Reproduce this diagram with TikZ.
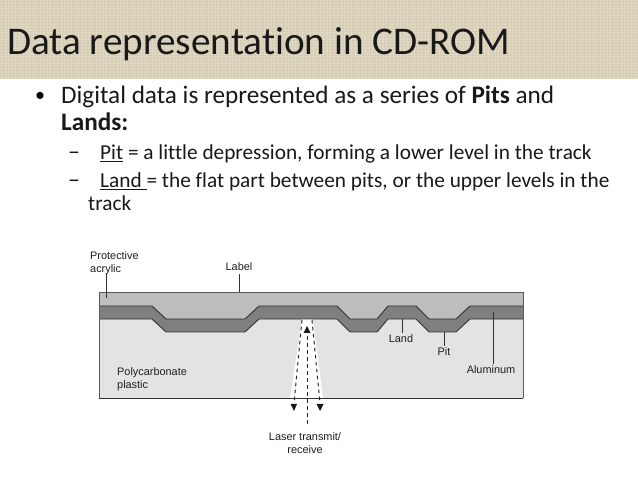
\documentclass[tikz,border=0pt]{standalone}
\usepackage{fontspec}
\setmainfont[RawFeature={-liga}]{Carlito}
\newfontfamily\labelfont{Liberation Sans}
\usetikzlibrary{arrows.meta}
\definecolor{tan}{HTML}{DCD3BD}
\definecolor{tandark}{HTML}{CDC3AB}
\definecolor{tanlight}{HTML}{E6DECB}
\definecolor{acrylic}{HTML}{BDBDBD}
\definecolor{alu}{HTML}{7F7F7F}
\definecolor{poly}{HTML}{E3E3E3}
\definecolor{edge}{HTML}{333333}
\tikzset{
  title/.style={anchor=base west,inner sep=0pt,font=\fontsize{39.2}{41}\selectfont,text=black!90},
  bodytext/.style={anchor=base west,inner sep=0pt,font=\fontsize{25.2}{27}\selectfont,text=black!90},
  subtext/.style={anchor=base west,inner sep=0pt,font=\fontsize{21.3}{24}\selectfont,text=black!90},
  lab/.style={inner sep=0pt,font=\labelfont\fontsize{10.9}{13.2}\selectfont,text=black!88,align=center},
  leader/.style={draw=edge,line width=0.8pt},
  laser/.style={draw=black!85,line width=1pt,dash pattern=on 3.5pt off 3.5pt},
  tip/.style={fill=black!90,draw=none},
  weave/.style={line width=0.5pt}
}
\begin{document}
\begin{tikzpicture}[x=1pt,y=-1pt]
\useasboundingbox (0,0) rectangle (638,478);
\fill[white] (0,0) rectangle (638,478);
% title band
\fill[tan] (0,0) rectangle (638,79);
\foreach \k in {1.5,4.5,...,79}{\draw[weave,tandark,opacity=.55] (0,\k) -- (638,\k);}
\foreach \k in {1.5,5,...,638}{\draw[weave,tanlight,opacity=.6] (\k,0) -- (\k,79);}
\node[title] (t) at (7,55) {Data representation in CD-ROM};
% text
\node[anchor=base west,inner sep=0pt,font=\fontsize{20}{22}\selectfont] (b1) at (35,102) {•};
\node[bodytext] (l1) at (61,104) {Digital data is represented as a series of \textbf{Pits} and};
\node[bodytext] (l2) at (61,131) {\textbf{Lands:}};
\node[subtext,font=\fontsize{24}{24}\selectfont] (d1) at (68,160) {–};
\node[subtext] (l3) at (100,160) {\underline{Pit} = a little depression, forming a lower level in the track};
\node[subtext,font=\fontsize{24}{24}\selectfont] (d2) at (68,188) {–};
\node[subtext] (l4) at (100,188) {\underline{Land }= the flat part between pits, or the upper levels in the};
\node[subtext] (l5) at (88,211) {track};
% disc
\fill[poly] (99,292) rectangle (523,398);
\fill[acrylic] (99,292) rectangle (523,320);
\fill[alu] (99,306) -- (152,306) -- (166,319) -- (245,319) -- (259,306) -- (337,306) -- (350,319) -- (377,319) -- (388,306) -- (416,306) -- (429,319) -- (456,319) -- (470,306) -- (523,306)
 -- (523,319) -- (470,319) -- (456,332) -- (429,332) -- (416,319) -- (388,319) -- (377,332) -- (350,332) -- (337,319) -- (259,319) -- (245,332) -- (166,332) -- (152,319) -- (99,319) -- cycle;
% polycarbonate below the aluminium
\fill[poly] (99,319.4) -- (152,319.4) -- (166,332.4) -- (245,332.4) -- (259,319.4) -- (337,319.4) -- (350,332.4) -- (377,332.4) -- (388,319.4) -- (416,319.4) -- (429,332.4) -- (456,332.4) -- (470,319.4) -- (523,319.4) -- (523,340) -- (99,340) -- cycle;
\draw[edge,line width=0.9pt] (99,306) -- (152,306) -- (166,319) -- (245,319) -- (259,306) -- (337,306) -- (350,319) -- (377,319) -- (388,306) -- (416,306) -- (429,319) -- (456,319) -- (470,306) -- (523,306);
\draw[edge,line width=0.9pt] (99,319) -- (152,319) -- (166,332) -- (245,332) -- (259,319) -- (337,319) -- (350,332) -- (377,332) -- (388,319) -- (416,319) -- (429,332) -- (456,332) -- (470,319) -- (523,319);
% beam
\fill[white] (302,319.6) -- (313,319.6) -- (323,398) -- (290,398) -- cycle;
\draw[black!65,line width=0.9pt] (99,398) -- (99,292) -- (523,292) -- (523,398);
\draw[edge,line width=0.9pt] (99,398) -- (523,398);
% labels
\node[lab,align=left,anchor=north west] (pa) at (90,251) {Protective\\acrylic};
\node[lab,anchor=center] (lb) at (239,267) {Label};
\node[lab,anchor=center] (ld) at (401,339) {Land};
\node[lab,anchor=center] (pt) at (444,352) {Pit};
\node[lab,anchor=center] (al) at (491,370) {Aluminum};
\node[lab,align=left,anchor=north west] (pc) at (117,367) {Polycarbonate\\plastic};
\node[lab,anchor=north] (ls) at (305,432) {Laser transmit/\\receive};
% leaders
\coordinate (paA) at (106,298);
\coordinate (lbA) at (239,292);
\coordinate (ldA) at (402,319);
\coordinate (ptA) at (444,332);
\coordinate (alA) at (493,312);
\draw[leader] (pa.south -| paA) ++(0,-2) -- (paA);
\draw[leader] (lb.south) ++(0,3) -- (lbA);
\draw[leader] (ld.north -| ldA) ++(0,-2) -- (ldA);
\draw[leader] (pt.north) ++(0,-2) -- (ptA);
\draw[leader] (al.north -| alA) ++(0,-2) -- (alA);
% laser
\coordinate (laL) at (302,320);
\coordinate (laR) at (312,320);
\coordinate (leL) at (294,403);
\coordinate (leR) at (320,403);
\coordinate (mT) at (307,333);
\coordinate (mB) at (307,424);
\draw[laser] (laL) -- (leL);
\draw[laser] (laR) -- (leR);
\draw[laser] (mB) -- (mT);
\fill[tip] (294,411) -- (290.5,404) -- (297,404) -- cycle;
\fill[tip] (320,411) -- (316.5,404) -- (323.5,404) -- cycle;
\fill[tip] (307,326) -- (303.5,333) -- (310.5,333) -- cycle;
\end{tikzpicture}
\end{document}
